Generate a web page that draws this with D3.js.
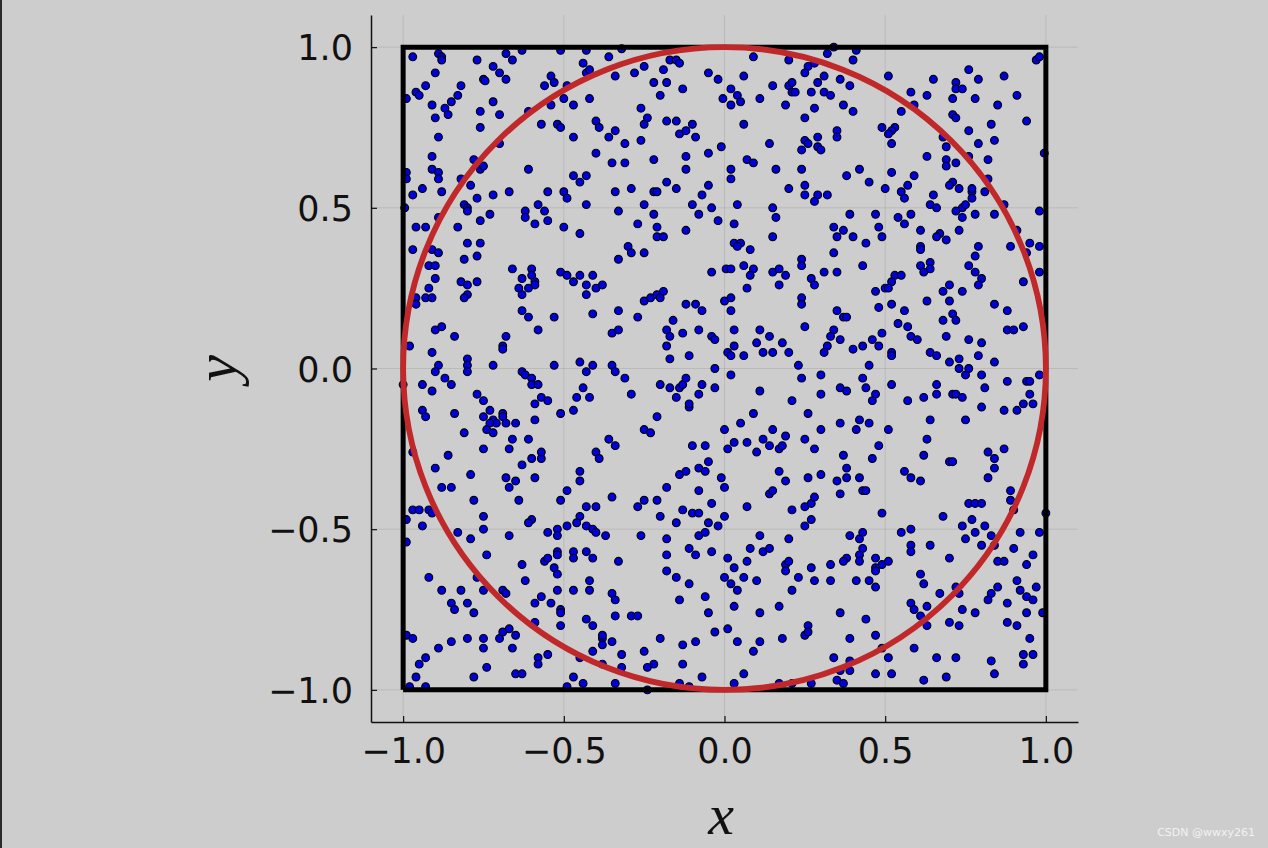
<!DOCTYPE html>
<html><head><meta charset="utf-8">
<script src="https://cdn.jsdelivr.net/npm/d3@7"></script>
<style>html,body{margin:0;padding:0;background:#cdcdcd;overflow:hidden}svg{display:block}</style>
</head><body><svg id="chart" width="1268" height="848"></svg>
<script>
// ---- data ----
const axisDomain = [-1.1, 1.1];
const xTickValues = [-1.0, -0.5, 0.0, 0.5, 1.0];
const yTickValues = [-1.0, -0.5, 0.0, 0.5, 1.0];
const xAxisTitle = "x";
const yAxisTitle = "y";
const squareCorners = [[-1,-1],[1,-1],[1,1],[-1,1],[-1,-1]];
const circleCenter = [0, 0];
const circleRadius = 1;
const watermark = "CSDN @wwxy261";
const samplePoints = [
[-0.97,0.97],[-0.89,0.98],[-0.88,0.97],[-0.88,0.96],[-0.77,0.96],[-0.68,0.98],[-0.66,0.96],[-0.63,0.99],[-0.51,0.99],[-0.90,0.92],
[-0.72,0.94],[-0.70,0.92],[-0.68,0.90],[-0.75,0.90],[-0.745,0.895],[-0.93,0.88],[-0.96,0.86],[-0.95,0.85],[-0.82,0.88],[-0.83,0.85],
[-0.85,0.83],[-0.54,0.91],[-0.53,0.89],[-0.56,0.88],[-0.50,0.84],[-0.99,0.84],[-0.91,0.82],[-0.87,0.81],[-0.86,0.79],[-0.90,0.78],
[-0.72,0.83],[-0.76,0.80],[-0.70,0.79],[-0.61,0.80],[-0.54,0.82],[-0.57,0.76],[-0.52,0.76],[-0.51,0.75],[-0.76,0.75],[-0.89,0.72],
[-0.70,0.70],[-0.91,0.66],[-0.78,0.65],[-0.76,0.62],[-0.75,0.63],[-0.91,0.62],[-0.89,0.61],[-0.89,0.59],[-0.61,0.62],[-0.99,0.61],
[-0.99,0.59],[-0.82,0.59],[-0.79,0.57],[-0.94,0.56],[-0.88,0.55],[-0.97,0.54],[-0.77,0.53],[-0.72,0.54],[-0.67,0.55],[-0.55,0.55],
[-0.50,0.55],[-0.995,0.50],[-0.81,0.51],[-0.80,0.50],[-0.80,0.49],[-0.73,0.48],[-0.62,0.49],[-0.62,0.47],[-0.58,0.51],[-0.56,0.49],
[-0.55,0.46],[-0.59,0.45],[-0.89,0.47],[-0.76,0.46],[-0.96,0.44],[-0.93,0.44],[-0.83,0.44],[-0.50,0.44],[-0.80,0.39],[-0.76,0.39],
[-0.97,0.37],[-0.91,0.37],[-0.89,0.36],[-0.81,0.34],[-0.77,0.35],
[-0.43,0.99],[-0.36,0.97],[-0.32,0.995],[-0.44,0.95],[-0.43,0.92],[-0.42,0.93],[-0.34,0.91],[-0.28,0.92],[-0.25,0.94],[-0.19,0.93],
[-0.17,0.96],[-0.15,0.96],[-0.14,0.95],[-0.22,0.89],[-0.18,0.89],[-0.20,0.85],[-0.13,0.87],[-0.05,0.92],[-0.02,0.90],[-0.005,0.84],
[-0.49,0.88],[-0.47,0.82],[-0.42,0.84],[-0.26,0.81],[-0.40,0.77],[-0.39,0.75],[-0.24,0.78],[-0.25,0.76],[-0.18,0.77],[-0.15,0.77],
[-0.10,0.76],[-0.14,0.73],[-0.12,0.74],[-0.09,0.72],[-0.47,0.72],[-0.36,0.72],[-0.34,0.74],[-0.31,0.70],[-0.26,0.71],[-0.40,0.67],
[-0.35,0.64],[-0.31,0.64],[-0.22,0.65],[-0.12,0.66],[-0.12,0.62],[-0.05,0.67],[-0.01,0.69],[-0.47,0.60],[-0.45,0.58],[-0.43,0.60],
[-0.49,0.53],[-0.34,0.55],[-0.29,0.56],[-0.22,0.55],[-0.21,0.55],[-0.18,0.58],[-0.15,0.56],[-0.05,0.57],[-0.07,0.54],[-0.43,0.51],
[-0.25,0.51],[-0.10,0.51],[-0.04,0.50],[-0.33,0.49],[-0.22,0.48],[-0.08,0.48],[-0.02,0.46],[-0.45,0.42],[-0.27,0.45],[-0.21,0.44],
[-0.12,0.43],[-0.21,0.41],[-0.19,0.41],[-0.30,0.38],[-0.29,0.36],[-0.25,0.36],[-0.33,0.34],
[0.09,0.97],[0.20,0.96],[0.26,0.94],[0.28,0.95],[0.25,0.92],[0.32,0.98],[0.34,1.00],[0.40,0.96],[0.41,0.99],[0.06,0.91],
[0.02,0.87],[0.04,0.85],[0.05,0.83],[0.02,0.82],[0.11,0.84],[0.15,0.88],[0.20,0.88],[0.21,0.89],[0.21,0.86],[0.22,0.86],
[0.19,0.82],[0.27,0.86],[0.29,0.89],[0.31,0.91],[0.31,0.86],[0.33,0.85],[0.36,0.90],[0.39,0.88],[0.28,0.81],[0.37,0.82],
[0.40,0.80],[0.25,0.78],[0.06,0.76],[0.49,0.75],[0.14,0.70],[0.25,0.71],[0.26,0.70],[0.24,0.68],[0.29,0.72],[0.29,0.69],
[0.30,0.68],[0.35,0.74],[0.35,0.72],[0.07,0.65],[0.09,0.64],[0.02,0.62],[0.02,0.59],[0.16,0.62],[0.24,0.62],[0.20,0.56],
[0.25,0.57],[0.25,0.54],[0.29,0.54],[0.28,0.52],[0.32,0.54],[0.38,0.60],[0.42,0.62],[0.45,0.58],[0.50,0.56],[0.04,0.51],
[0.15,0.50],[0.16,0.47],[0.03,0.45],[0.03,0.39],[0.05,0.39],[0.04,0.38],[0.08,0.37],[0.15,0.41],[0.24,0.34],[0.34,0.36],
[0.39,0.48],[0.34,0.44],[0.37,0.43],[0.35,0.41],[0.40,0.41],[0.44,0.39],[0.47,0.48],[0.48,0.44],[0.49,0.41],
[0.51,0.91],[0.65,0.90],[0.72,0.89],[0.72,0.87],[0.74,0.87],[0.76,0.93],[0.79,0.90],[0.87,0.91],[0.97,0.96],[0.98,0.97],
[0.58,0.86],[0.59,0.82],[0.63,0.85],[0.71,0.84],[0.78,0.84],[0.91,0.85],[0.85,0.82],[0.55,0.80],[0.71,0.79],[0.72,0.78],
[0.83,0.76],[0.94,0.77],[0.53,0.75],[0.52,0.74],[0.51,0.73],[0.52,0.70],[0.76,0.74],[0.68,0.72],[0.69,0.69],[0.79,0.70],
[0.84,0.71],[0.63,0.66],[0.69,0.65],[0.69,0.63],[0.72,0.64],[0.76,0.66],[0.82,0.65],[0.52,0.61],[0.59,0.60],[0.57,0.57],
[0.55,0.55],[0.56,0.53],[0.71,0.58],[0.70,0.57],[0.73,0.56],[0.77,0.55],[0.77,0.56],[0.77,0.53],[0.65,0.54],[0.64,0.51],
[0.66,0.50],[0.74,0.50],[0.75,0.51],[0.82,0.59],[0.81,0.55],[0.87,0.51],[0.58,0.48],[0.54,0.47],[0.56,0.45],[0.72,0.49],
[0.74,0.47],[0.78,0.48],[0.84,0.48],[0.98,0.49],[0.61,0.43],[0.67,0.42],[0.66,0.41],[0.69,0.40],[0.61,0.38],[0.61,0.37],
[0.73,0.43],[0.79,0.38],[0.78,0.35],[0.89,0.38],[0.91,0.43],[0.95,0.39],[0.98,0.38],[0.94,0.36],[0.995,0.67],
[-0.92,0.32],[-0.90,0.32],[-0.90,0.28],[-0.92,0.25],[-0.96,0.22],[-0.93,0.22],[-0.91,0.22],[-0.96,0.20],[-0.82,0.27],[-0.80,0.26],
[-0.80,0.23],[-0.81,0.22],[-0.77,0.27],[-0.66,0.31],[-0.60,0.31],[-0.60,0.29],[-0.63,0.28],[-0.59,0.27],[-0.59,0.26],[-0.61,0.25],
[-0.64,0.25],[-0.63,0.23],[-0.51,0.30],[-0.63,0.18],[-0.61,0.16],[-0.53,0.16],[-0.58,0.12],[-0.90,0.12],[-0.88,0.13],[-0.84,0.10],
[-0.98,0.07],[-0.91,0.05],[-0.68,0.10],[-0.69,0.07],[-0.69,0.06],[-0.80,0.03],[-0.80,0.01],[-0.80,-0.01],[-0.89,0.01],[-0.90,-0.01],
[-0.87,-0.03],[-0.85,-0.05],[-0.72,0.01],[-0.53,0.01],[-0.63,-0.01],[-0.62,-0.02],[-0.60,-0.03],[-0.60,-0.05],[-0.58,-0.05],[-1.00,-0.05],
[-0.94,-0.05],[-0.91,-0.07],[-0.77,-0.08],[-0.75,-0.10],[-0.59,-0.11],[-0.57,-0.09],[-0.55,-0.10],[-0.51,-0.14],[-0.94,-0.13],[-0.93,-0.15],
[-0.84,-0.14],[-0.75,-0.15],[-0.73,-0.13],[-0.72,-0.16],[-0.69,-0.14],[-0.69,-0.15],[-0.71,-0.17],[-0.68,-0.17],[-0.73,-0.17],[-0.74,-0.19],
[-0.72,-0.20],[-0.65,-0.17],[-0.59,-0.16],[-0.81,-0.20],[-0.66,-0.22],[-0.61,-0.22],[-0.67,-0.25],[-0.75,-0.25],[-0.86,-0.27],[-0.97,-0.26],
[-0.90,-0.31],[-0.79,-0.33],[-0.63,-0.30],[-0.60,-0.28],[-0.57,-0.28],[-0.57,-0.26],[-0.68,-0.34],
[-0.49,0.29],[-0.47,0.27],[-0.45,0.29],[-0.41,0.29],[-0.43,0.26],[-0.43,0.23],[-0.40,0.25],[-0.38,0.26],[-0.41,0.17],[-0.33,0.18],
[-0.35,0.11],[-0.33,0.12],[-0.27,0.16],[-0.25,0.21],[-0.23,0.22],[-0.21,0.23],[-0.19,0.24],[-0.20,0.22],[-0.04,0.30],[0.005,0.31],
[0.00,0.21],[-0.16,0.15],[-0.12,0.20],[-0.09,0.20],[-0.07,0.18],[-0.18,0.12],[-0.17,0.10],[-0.13,0.11],[-0.08,0.12],[-0.04,0.10],
[-0.03,0.09],[-0.18,0.07],[-0.17,0.03],[-0.11,0.04],[-0.03,0.00],[-0.45,0.02],[-0.41,0.01],[-0.43,-0.01],[-0.35,0.01],[-0.34,-0.01],
[-0.31,-0.03],[-0.44,-0.06],[-0.46,-0.09],[-0.42,-0.09],[-0.47,-0.13],[-0.29,-0.08],[-0.20,-0.05],[-0.17,-0.06],[-0.14,-0.06],[-0.13,-0.05],
[-0.12,-0.03],[-0.15,-0.09],[-0.08,-0.08],[-0.07,-0.05],[-0.03,-0.06],[-0.11,-0.12],[-0.11,-0.11],[-0.21,-0.15],[-0.25,-0.19],[-0.23,-0.20],
[-0.36,-0.22],[-0.34,-0.24],[-0.40,-0.26],[-0.39,-0.28],[-0.45,-0.32],[-0.10,-0.24],[-0.06,-0.24],[0.00,-0.19],[-0.05,-0.29],[-0.08,-0.31],
[-0.06,-0.32],[-0.14,-0.33],[-0.12,-0.32],
[0.02,0.31],[0.06,0.32],[0.09,0.31],[0.08,0.29],[0.15,0.30],[0.17,0.31],[0.19,0.29],[0.17,0.26],[0.24,0.32],[0.27,0.28],
[0.28,0.26],[0.31,0.30],[0.35,0.30],[0.43,0.32],[0.07,0.25],[0.02,0.22],[0.02,0.18],[0.24,0.22],[0.24,0.20],[0.50,0.25],
[0.47,0.24],[0.48,0.19],[0.35,0.18],[0.37,0.16],[0.38,0.16],[0.25,0.13],[0.34,0.12],[0.33,0.10],[0.32,0.07],[0.31,0.05],
[0.36,0.09],[0.40,0.06],[0.43,0.07],[0.46,0.09],[0.49,0.11],[0.48,0.07],[0.03,0.12],[0.11,0.12],[0.14,0.10],[0.10,0.08],
[0.18,0.08],[0.03,0.07],[0.01,0.05],[0.02,0.04],[0.06,0.04],[0.12,0.05],[0.15,0.05],[0.20,0.05],[0.23,0.01],[0.24,-0.03],
[0.30,-0.02],[0.45,0.01],[0.43,-0.03],[0.44,-0.06],[0.02,-0.02],[0.11,-0.07],[0.21,-0.10],[0.30,-0.08],[0.36,-0.06],[0.38,-0.07],
[0.47,-0.08],[0.46,-0.10],[0.09,-0.14],[0.05,-0.17],[0.15,-0.19],[0.19,-0.21],[0.12,-0.22],[0.14,-0.24],[0.17,-0.25],[0.18,-0.24],
[0.03,-0.23],[0.01,-0.25],[0.07,-0.23],[0.10,-0.26],[0.25,-0.22],[0.26,-0.14],[0.30,-0.19],[0.28,-0.25],[0.36,-0.17],[0.42,-0.16],
[0.45,-0.17],[0.41,-0.19],[0.37,-0.27],[0.38,-0.31],[0.46,-0.28],[0.48,-0.24],[0.17,-0.32],
[0.61,0.32],[0.64,0.33],[0.64,0.31],[0.62,0.30],[0.53,0.29],[0.55,0.29],[0.52,0.27],[0.51,0.25],[0.52,0.20],[0.56,0.18],
[0.54,0.14],[0.57,0.13],[0.58,0.10],[0.60,0.09],[0.70,0.26],[0.68,0.24],[0.70,0.21],[0.63,0.21],[0.74,0.24],[0.76,0.32],
[0.78,0.30],[0.80,0.28],[0.79,0.26],[0.93,0.27],[0.98,0.30],[0.84,0.20],[0.88,0.18],[0.71,0.17],[0.72,0.15],[0.68,0.15],
[0.69,0.10],[0.76,0.09],[0.80,0.08],[0.88,0.12],[0.90,0.12],[0.93,0.13],[0.52,0.05],[0.52,0.04],[0.64,0.05],[0.66,0.04],
[0.70,0.02],[0.73,0.03],[0.79,0.04],[0.84,0.02],[0.73,0.00],[0.75,-0.02],[0.76,0.00],[0.80,-0.02],[0.98,-0.02],[0.88,-0.04],
[0.94,-0.04],[0.95,-0.04],[0.52,-0.05],[0.66,-0.05],[0.66,-0.08],[0.62,-0.09],[0.57,-0.10],[0.71,-0.08],[0.72,-0.08],[0.74,-0.09],
[0.81,-0.06],[0.80,-0.12],[0.87,-0.13],[0.91,-0.13],[0.93,-0.11],[0.95,-0.08],[0.96,-0.11],[0.64,-0.16],[0.75,-0.16],[0.51,-0.19],
[0.63,-0.22],[0.62,-0.27],[0.70,-0.29],[0.71,-0.29],[0.82,-0.26],[0.84,-0.28],[0.84,-0.31],[0.87,-0.25],[0.56,-0.32],
[-0.65,-0.35],[-0.59,-0.34],[-0.67,-0.37],[-0.88,-0.37],[-0.85,-0.37],[-0.78,-0.41],[-0.64,-0.41],[-0.97,-0.44],[-0.95,-0.44],[-0.92,-0.44],
[-0.91,-0.45],[-0.99,-0.47],[-0.94,-0.49],[-0.75,-0.46],[-0.75,-0.50],[-0.60,-0.47],[-0.61,-0.48],[-0.83,-0.51],[-0.79,-0.53],[-0.67,-0.52],
[-0.55,-0.51],[-0.52,-0.50],[-0.52,-0.52],[-0.51,-0.41],[-0.99,-0.54],[-0.74,-0.58],[-0.63,-0.61],[-0.62,-0.66],[-0.56,-0.60],[-0.55,-0.59],
[-0.53,-0.62],[-0.52,-0.64],[-0.52,-0.57],[-0.52,-0.58],[-0.92,-0.65],[-0.77,-0.65],[-0.88,-0.69],[-0.82,-0.69],[-0.75,-0.69],[-0.69,-0.69],
[-0.68,-0.70],[-0.59,-0.73],[-0.57,-0.71],[-0.54,-0.73],[-0.52,-0.69],[-0.51,-0.75],[-0.51,-0.76],[-0.51,-0.80],[-0.59,-0.79],[-0.85,-0.73],
[-0.84,-0.75],[-0.80,-0.73],[-0.78,-0.76],[-0.99,-0.83],[-0.97,-0.84],[-0.89,-0.87],[-0.85,-0.85],[-0.80,-0.84],[-0.75,-0.84],[-0.75,-0.87],
[-0.70,-0.84],[-0.69,-0.82],[-0.67,-0.81],[-0.65,-0.83],[-0.66,-0.87],[-0.93,-0.90],[-0.95,-0.92],[-0.96,-0.96],[-0.78,-0.96],[-0.74,-0.93],
[-0.65,-0.95],[-0.63,-0.95],[-0.58,-0.90],[-0.58,-0.92],[-0.55,-0.89],[-0.98,-0.99],[-0.93,-0.99],
[-0.45,-0.35],[-0.49,-0.38],[-0.35,-0.40],[-0.01,-0.34],[0.00,-0.37],[-0.18,-0.37],[-0.08,-0.38],[-0.04,-0.42],[-0.43,-0.43],[-0.40,-0.43],
[-0.27,-0.43],[-0.25,-0.41],[-0.21,-0.41],[-0.20,-0.46],[-0.13,-0.44],[-0.10,-0.45],[-0.08,-0.45],[0.00,-0.46],[-0.15,-0.48],[-0.05,-0.48],
[-0.02,-0.49],[-0.08,-0.52],[-0.06,-0.51],[-0.45,-0.46],[-0.46,-0.48],[-0.49,-0.49],[-0.43,-0.49],[-0.41,-0.50],[-0.40,-0.51],[-0.37,-0.52],
[-0.26,-0.52],[-0.18,-0.53],[-0.47,-0.57],[-0.47,-0.59],[-0.43,-0.57],[-0.41,-0.59],[-0.33,-0.60],[-0.18,-0.58],[-0.11,-0.56],[-0.09,-0.58],
[-0.04,-0.57],[-0.18,-0.63],[-0.15,-0.65],[-0.11,-0.67],[-0.06,-0.71],[-0.14,-0.72],[-0.42,-0.66],[-0.42,-0.69],[-0.47,-0.69],[-0.35,-0.70],
[-0.34,-0.72],[-0.34,-0.77],[-0.29,-0.77],[-0.27,-0.77],[-0.05,-0.76],[-0.03,-0.82],[0.00,-0.65],[-0.43,-0.78],[-0.41,-0.80],[-0.38,-0.84],
[-0.38,-0.83],[-0.38,-0.86],[-0.35,-0.85],[-0.41,-0.88],[-0.32,-0.89],[-0.25,-0.88],[-0.20,-0.84],[-0.13,-0.86],[-0.09,-0.85],[-0.22,-0.92],
[-0.24,-0.93],[-0.32,-0.93],[-0.38,-0.92],[-0.13,-0.92],[-0.07,-0.96],[-0.47,-0.96],[-0.44,-0.98],[-0.34,-0.98],[-0.49,-0.99],[-0.45,-0.90],
[-0.14,-0.98],[-0.11,-0.99],[-0.24,-1.00],
[0.19,-0.35],[0.26,-0.34],[0.30,-0.33],[0.35,-0.35],[0.38,-0.34],[0.42,-0.34],[0.14,-0.39],[0.15,-0.38],[0.36,-0.39],[0.43,-0.38],
[0.44,-0.38],[0.07,-0.43],[0.21,-0.44],[0.25,-0.43],[0.27,-0.42],[0.28,-0.40],[0.27,-0.47],[0.25,-0.49],[0.49,-0.45],[0.11,-0.52],
[0.20,-0.53],[0.08,-0.56],[0.12,-0.57],[0.14,-0.56],[0.39,-0.52],[0.42,-0.53],[0.43,-0.51],[0.43,-0.56],[0.42,-0.58],[0.42,-0.60],
[0.38,-0.59],[0.37,-0.60],[0.01,-0.59],[0.03,-0.62],[0.07,-0.60],[0.19,-0.61],[0.20,-0.60],[0.19,-0.63],[0.27,-0.62],[0.33,-0.61],
[0.47,-0.59],[0.49,-0.61],[0.47,-0.62],[0.47,-0.63],[0.02,-0.67],[0.06,-0.65],[0.10,-0.66],[0.23,-0.65],[0.28,-0.66],[0.33,-0.66],
[0.41,-0.66],[0.45,-0.66],[0.47,-0.68],[0.21,-0.69],[0.04,-0.69],[0.03,-0.74],[0.17,-0.74],[0.11,-0.76],[0.36,-0.76],[0.44,-0.78],
[0.01,-0.81],[0.04,-0.85],[0.11,-0.85],[0.09,-0.88],[0.18,-0.84],[0.25,-0.83],[0.26,-0.80],[0.26,-0.82],[0.39,-0.84],[0.47,-0.83],
[0.49,-0.87],[0.34,-0.90],[0.39,-0.91],[0.39,-0.94],[0.36,-0.94],[0.06,-0.95],[0.03,-0.98],[0.17,-0.98],[0.21,-0.98],[0.27,-0.98],
[0.35,-0.97],[0.37,-0.98],[0.47,-0.95],
[0.58,-0.34],[0.61,-0.35],[0.82,-0.34],[0.89,-0.38],[0.89,-0.41],[0.90,-0.44],[0.76,-0.42],[0.78,-0.42],[0.80,-0.42],[0.68,-0.46],
[0.74,-0.49],[0.77,-0.47],[0.81,-0.49],[0.78,-0.51],[0.75,-0.53],[0.80,-0.55],[0.83,-0.52],[0.84,-0.55],[0.90,-0.56],[0.92,-0.51],
[0.98,-0.51],[1.00,-0.45],[0.55,-0.51],[0.58,-0.50],[0.58,-0.55],[0.58,-0.57],[0.64,-0.55],[0.51,-0.60],[0.70,-0.59],[0.85,-0.60],
[0.87,-0.60],[0.94,-0.61],[0.96,-0.58],[0.61,-0.64],[0.62,-0.67],[0.72,-0.68],[0.73,-0.70],[0.67,-0.70],[0.85,-0.68],[0.83,-0.70],
[0.82,-0.72],[0.88,-0.73],[0.91,-0.66],[0.92,-0.69],[0.94,-0.71],[0.96,-0.72],[0.97,-0.68],[0.99,-0.76],[0.58,-0.73],[0.59,-0.75],
[0.63,-0.74],[0.61,-0.77],[0.63,-0.80],[0.70,-0.79],[0.73,-0.80],[0.74,-0.75],[0.78,-0.76],[0.88,-0.79],[0.91,-0.80],[0.94,-0.76],
[0.95,-0.84],[0.59,-0.87],[0.51,-0.90],[0.66,-0.90],[0.72,-0.90],[0.83,-0.91],[0.84,-0.95],[0.93,-0.89],[0.96,-0.89],[0.93,-0.92],
[0.52,-0.95],[0.62,-0.97],[0.69,-0.96]
];

// ---- layout ----
const W = 1268, H = 848;
const plot = {left: 371, right: 1078, top: 15, bottom: 722};
const svg = d3.select("#chart");
svg.append("rect").attr("width", W).attr("height", H).attr("fill", "#cdcdcd");
svg.append("rect").attr("x", 0).attr("y", 0).attr("width", 2).attr("height", H).attr("fill", "#2a2a2a");

const x = d3.scaleLinear().domain(axisDomain).range([plot.left, plot.right]);
const y = d3.scaleLinear().domain(axisDomain).range([plot.bottom, plot.top]);
const fmt = d3.format(".1f");

// grid
const grid = svg.append("g").attr("stroke", "#000").attr("stroke-opacity", 0.09).attr("stroke-width", 1);
grid.selectAll(".gx").data(xTickValues).join("line")
  .attr("x1", d => x(d)).attr("x2", d => x(d)).attr("y1", plot.top).attr("y2", plot.bottom);
grid.selectAll(".gy").data(yTickValues).join("line")
  .attr("y1", d => y(d)).attr("y2", d => y(d)).attr("x1", plot.left).attr("x2", plot.right);

// points
svg.append("g").selectAll("circle").data(samplePoints).join("circle")
  .attr("cx", d => x(d[0])).attr("cy", d => y(d[1])).attr("r", 3.9)
  .attr("fill", "#0000d8").attr("stroke", "#000").attr("stroke-width", 1.1);

// square
svg.append("path").datum(squareCorners)
  .attr("d", d3.line().x(d => x(d[0])).y(d => y(d[1])))
  .attr("fill", "none").attr("stroke", "#000").attr("stroke-width", 5).attr("stroke-linejoin", "miter");

// circle
svg.append("circle")
  .attr("cx", x(circleCenter[0])).attr("cy", y(circleCenter[1]))
  .attr("r", x(circleRadius) - x(0))
  .attr("fill", "none").attr("stroke", "#c0282a").attr("stroke-width", 5.8);

// axes
const fontTicks = "'DejaVu Sans', sans-serif";
const xAxis = d3.axisBottom(x).tickValues(xTickValues).tickFormat(fmt).tickSizeInner(-6).tickSizeOuter(0).tickPadding(16);
const yAxis = d3.axisLeft(y).tickValues(yTickValues).tickFormat(fmt).tickSizeInner(-6).tickSizeOuter(0).tickPadding(18);
const gx = svg.append("g").attr("transform", `translate(0,${plot.bottom})`).call(xAxis);
const gy = svg.append("g").attr("transform", `translate(${plot.left},0)`).call(yAxis);
[gx, gy].forEach(g => {
  g.select(".domain").attr("stroke", "#111").attr("stroke-width", 1.5);
  g.selectAll(".tick line").attr("stroke", "#111").attr("stroke-width", 1.2);
  g.selectAll(".tick text").attr("fill", "#111").style("font-family", fontTicks).style("font-size", "35px");
});
gx.selectAll(".tick text").attr("dy", "0.71em");
gy.selectAll(".tick text").attr("dy", "0.36em");

// axis titles
svg.append("text").attr("x", 721).attr("y", 834)
  .attr("text-anchor", "middle").style("font-family", "'Liberation Serif', 'DejaVu Serif', serif")
  .style("font-style", "italic").style("font-size", "58px").attr("fill", "#111").text(xAxisTitle);
svg.append("text").attr("transform", `translate(236,${(plot.top + plot.bottom) / 2}) rotate(-90)`)
  .attr("text-anchor", "middle").style("font-family", "'Liberation Serif', 'DejaVu Serif', serif")
  .style("font-style", "italic").style("font-size", "60px").attr("fill", "#111").text(yAxisTitle);

// watermark
svg.append("text").attr("x", 1255).attr("y", 836).attr("text-anchor", "end")
  .style("font-family", "'DejaVu Sans', sans-serif").style("font-size", "11px")
  .attr("fill", "#f2f2f2").text(watermark);
</script></body></html>
